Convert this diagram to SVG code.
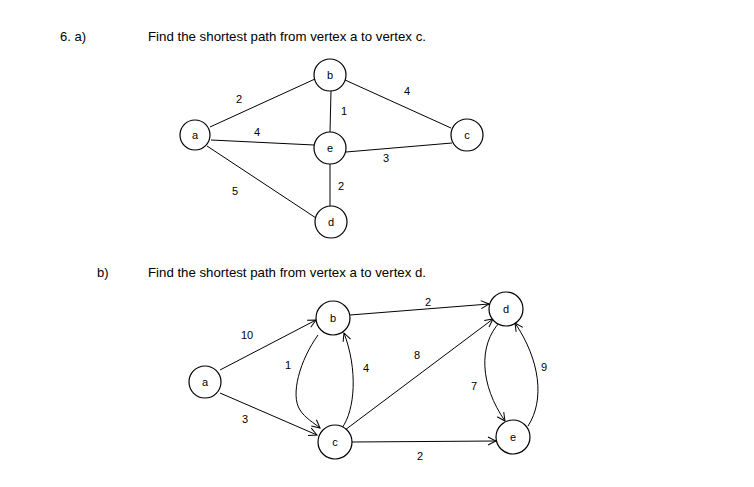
<svg xmlns="http://www.w3.org/2000/svg" width="754" height="487" viewBox="0 0 754 487">
<style>
.n{fill:#fff;stroke:#000;stroke-width:1.2}
.t{font-family:"Liberation Sans",Arial,sans-serif;font-size:11px;fill:#000;text-anchor:middle}
.h{font-family:"Liberation Sans",Arial,sans-serif;font-size:13px;fill:#000}
.e{stroke:#000;stroke-width:1;fill:none}
.a{stroke:#000;stroke-width:1;fill:none;marker-end:url(#ar)}
</style>
<defs><marker id="ar" markerWidth="10" markerHeight="10" refX="9" refY="5" orient="auto" markerUnits="userSpaceOnUse"><path d="M1,1 L9,5 L1,9" fill="none" stroke="#000" stroke-width="1"/></marker></defs>
<rect width="754" height="487" fill="#fff"/>
<text class="h" x="60" y="41">6.  a)</text>
<text class="h" x="148" y="41" textLength="278" lengthAdjust="spacingAndGlyphs">Find the shortest path from vertex a to vertex  c.</text>
<text class="h" x="97" y="277">b)</text>
<text class="h" x="148" y="277" textLength="278" lengthAdjust="spacingAndGlyphs">Find the shortest path from vertex a to vertex  d.</text>
<g id="connectors">
<line class="e" x1="210" y1="127" x2="315" y2="79"/>
<line class="e" x1="211" y1="140" x2="314" y2="145"/>
<line class="e" x1="207" y1="146" x2="316" y2="218"/>
<line class="e" x1="331" y1="91" x2="330" y2="132"/>
<line class="e" x1="345" y1="80" x2="451" y2="128"/>
<line class="e" x1="346" y1="152" x2="452" y2="143"/>
<line class="e" x1="330" y1="164" x2="330" y2="206"/>
<line class="a" x1="220" y1="370" x2="316" y2="320"/>
<line class="a" x1="220" y1="393" x2="317" y2="435"/>
<line class="a" x1="350" y1="315" x2="489" y2="304"/>
<line class="a" x1="352" y1="442" x2="496" y2="441"/>
<line class="a" x1="345" y1="430" x2="493" y2="319"/>
<path class="a" d="M318,335 C300,360 290,395 300,410 C305,418 314,423 320,428"/>
<path class="a" d="M342,428 C355,410 358,370 344,333"/>
<path class="a" d="M500,322 C478,345 480,385 505,421"/>
<path class="a" d="M528,426 C545,400 540,360 515,323"/>
</g>
<g id="labels">
<text class="t" x="239" y="103">2</text>
<text class="t" x="257" y="136">4</text>
<text class="t" x="235" y="195">5</text>
<text class="t" x="344" y="115">1</text>
<text class="t" x="407" y="95">4</text>
<text class="t" x="386" y="162">3</text>
<text class="t" x="341" y="190">2</text>
<text class="t" x="247" y="339">10</text>
<text class="t" x="245" y="423">3</text>
<text class="t" x="288" y="369">1</text>
<text class="t" x="366" y="372">4</text>
<text class="t" x="417" y="359">8</text>
<text class="t" x="428" y="306">2</text>
<text class="t" x="420" y="460">2</text>
<text class="t" x="474" y="390">7</text>
<text class="t" x="544" y="371">9</text>
</g>
<g id="A-a"><circle class="n" cx="195" cy="135" r="15"/><text class="t" x="195" y="139">a</text></g>
<g id="A-b"><circle class="n" cx="330" cy="75" r="16"/><text class="t" x="330" y="79">b</text></g>
<g id="A-e"><circle class="n" cx="330" cy="148" r="16"/><text class="t" x="330" y="152">e</text></g>
<g id="A-c"><circle class="n" cx="467" cy="135" r="16"/><text class="t" x="467" y="139">c</text></g>
<g id="A-d"><circle class="n" cx="331" cy="222" r="16"/><text class="t" x="331" y="226">d</text></g>
<g id="B-a"><circle class="n" cx="205" cy="382" r="16"/><text class="t" x="205" y="386">a</text></g>
<g id="B-b"><circle class="n" cx="333" cy="318" r="17"/><text class="t" x="333" y="322">b</text></g>
<g id="B-c"><circle class="n" cx="335" cy="442" r="17"/><text class="t" x="335" y="446">c</text></g>
<g id="B-d"><circle class="n" cx="506" cy="309" r="17"/><text class="t" x="506" y="313">d</text></g>
<g id="B-e"><circle class="n" cx="513" cy="437" r="17"/><text class="t" x="513" y="441">e</text></g>
</svg>
